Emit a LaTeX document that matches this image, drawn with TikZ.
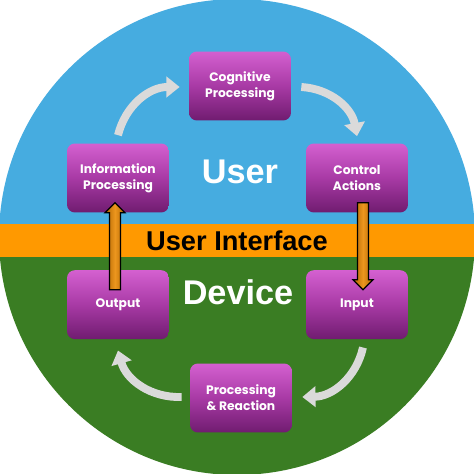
\documentclass[tikz,border=0pt]{standalone}
\usepackage{fontspec}
\setmainfont{Poppins}
\newfontfamily\headfont{Liberation Sans}
\usepackage{tikz}
\usetikzlibrary{
    arrows.meta,
    positioning,
    calc
}
\definecolor{skyblue}{RGB}{70,172,224}
\definecolor{grassgreen}{RGB}{58,125,35}
\definecolor{bandorange}{RGB}{255,153,0}
\definecolor{boxtop}{RGB}{212,96,208}
\definecolor{boxmid}{RGB}{168,58,165}
\definecolor{boxbottom}{RGB}{112,28,112}
\definecolor{cyclegray}{RGB}{218,218,218}
\definecolor{uiedge}{RGB}{176,100,0}
\definecolor{uimid}{RGB}{236,150,30}

\begin{document}
\begin{tikzpicture}[
            x=0.02cm, y=0.02cm,
            node distance=1.14cm and 2.74cm,
            process_box/.style={rectangle, rounded corners=4.5pt, minimum width=2.04cm, minimum height=1.38cm, align=center,
                top color=boxtop, bottom color=boxbottom, middle color=boxmid, text=white, font=\bfseries\fontsize{7}{9}\selectfont},
            big_label/.style={text=white, font=\headfont\bfseries\fontsize{19.5}{22}\selectfont, inner sep=0pt},
            band_label/.style={text=black, font=\headfont\bfseries\fontsize{15.5}{18}\selectfont, inner sep=0pt},
            cycle_arrow/.style={-{Triangle[width=11.5pt, length=7.5pt]}, line width=4.5pt, cyclegray, bend left=38},
            ui_arrow/.style={draw=black, line width=0.7pt, left color=uiedge, right color=uiedge, middle color=uimid}
        ]

    \useasboundingbox (0,0) rectangle (474,474);
    \fill[white] (0,0) rectangle (474,474);

    % the two worlds and the interface between them
    \begin{scope}
        \clip (237,237) circle (4.76cm);
        \fill[skyblue] (0,237) rectangle (474,476);
        \fill[grassgreen] (0,-2) rectangle (474,237);
        \fill[bandorange] (0,217) rectangle (474,250);
    \end{scope}

    \node[band_label] (ui_label) at (237,233) {User Interface};
    \node[big_label] (user_label) at (240,302) {User};
    \node[big_label] (device_label) at (238,182) {Device};

    \node[process_box] (cog_proc) at (240,388) {Cognitive\\Processing};

    \node[process_box] (info_proc) at (118,296) {Information\\Processing};

    \node[process_box] (ctrl_act) at (357,296) {Control\\Actions};

    \node[process_box, below=of info_proc] (output) {Output};

    \node[process_box, below=of ctrl_act] (input) {Input};

    \node[process_box] (proc_react) at (241,76) {Processing\\\& Reaction};

    \draw[cycle_arrow] ($(info_proc.north)+(0,8)$) to ($(cog_proc.west)+(-9,-1)$);
    \draw[cycle_arrow] ($(cog_proc.east)+(10,-1)$) to ($(ctrl_act.north)+(0,7)$);
    \draw[cycle_arrow] ($(input.south)+(6,-8)$) to ($(proc_react.east)+(10,1)$);
    \draw[cycle_arrow] ($(proc_react.west)+(-8,1)$) to ($(output.south)+(0,-11)$);

    \draw[ui_arrow] ($(output.north)+(-8.5,-20)$) -- ($(output.north)+(2.5,-20)$)
        -- ($(info_proc.south)+(2.5,0)$) -- ($(info_proc.south)+(7,0)$)
        -- ($(info_proc.south)+(-3,10)$) -- ($(info_proc.south)+(-13,0)$)
        -- ($(info_proc.south)+(-8.5,0)$) -- cycle;
    \draw[ui_arrow] ($(ctrl_act.south)+(0.5,10)$) -- ($(ctrl_act.south)+(11.5,10)$)
        -- ($(input.north)+(11.5,-10)$) -- ($(input.north)+(16,-10)$)
        -- ($(input.north)+(6,-20)$) -- ($(input.north)+(-4,-10)$)
        -- ($(input.north)+(0.5,-10)$) -- cycle;

\end{tikzpicture}
\end{document}
